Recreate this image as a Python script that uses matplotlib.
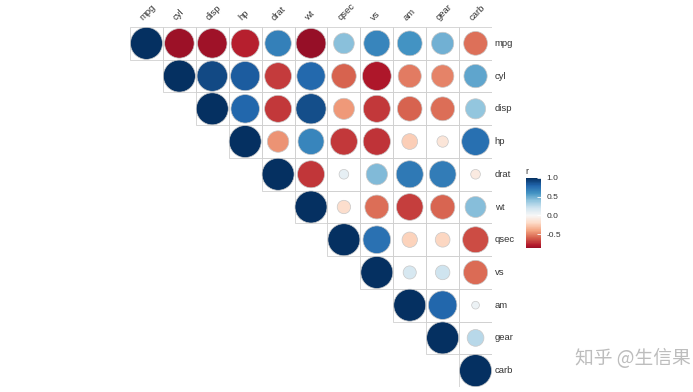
import numpy as np
import matplotlib
matplotlib.use('Agg')
import matplotlib.pyplot as plt
from matplotlib.patches import Rectangle
from matplotlib.colors import Normalize
import matplotlib.cm as cm

plt.rcParams['font.family'] = ['Liberation Sans', 'DejaVu Sans']

# mtcars correlation matrix (upper triangle incl. diagonal is drawn)
names = ['mpg', 'cyl', 'disp', 'hp', 'drat', 'wt', 'qsec', 'vs', 'am', 'gear', 'carb']
r_mpg  = [1.000, -0.852, -0.848, -0.776, 0.681, -0.868, 0.419, 0.664, 0.600, 0.480, -0.551]
r_cyl  = [1.000, 0.902, 0.832, -0.700, 0.782, -0.591, -0.811, -0.523, -0.493, 0.527]
r_disp = [1.000, 0.791, -0.710, 0.888, -0.434, -0.710, -0.591, -0.556, 0.395]
r_hp   = [1.000, -0.449, 0.659, -0.708, -0.723, -0.243, -0.126, 0.750]
r_drat = [1.000, -0.712, 0.091, 0.440, 0.713, 0.700, -0.091]
r_wt   = [1.000, -0.175, -0.555, -0.692, -0.583, 0.428]
r_qsec = [1.000, 0.745, -0.230, -0.213, -0.656]
r_vs   = [1.000, 0.168, 0.206, -0.570]
r_am   = [1.000, 0.794, 0.058]
r_gear = [1.000, 0.274]
r_carb = [1.000]
rows = [r_mpg, r_cyl, r_disp, r_hp, r_drat, r_wt, r_qsec, r_vs, r_am, r_gear, r_carb]

n = len(names)
xs, ys, vals = [], [], []
for i, row in enumerate(rows):
    for k, v in enumerate(row):
        xs.append(i + k)
        ys.append(i)
        vals.append(v)
xs = np.array(xs); ys = np.array(ys); vals = np.array(vals)

# colours centred on 0 over -1..1, legend only spans the data range
norm = Normalize(vmin=-1, vmax=1)
cmap = plt.get_cmap('RdBu')

fig = plt.figure(figsize=(6.93, 3.92), dpi=100)
ax = fig.add_axes([130/693, 1 - 387/392, 362/693, 360/392])

# grid of the upper triangle
for x, y in zip(xs, ys):
    ax.add_patch(Rectangle((x - 0.5, y - 0.5), 1, 1, fill=False,
                           edgecolor='#d0d0d0', lw=0.6, zorder=1))

ax.scatter(xs, ys, s=531 * np.abs(vals), c=vals, cmap=cmap, norm=norm,
           edgecolors='#c8c8c8', linewidths=0.5, zorder=2)

ax.set_xlim(-0.5, n - 0.5)
ax.set_ylim(n - 0.5, -0.5)
ax.axis('off')

for j, nm in enumerate(names):
    ax.text(j - 0.05, -0.65, nm, rotation=45, ha='left', va='bottom',
            rotation_mode='anchor', fontsize=6.8, color='#333333')
    ax.text(n - 0.5 + 0.08, j, nm, ha='left', va='center',
            fontsize=6.8, color='#333333')

# colour bar
cax = fig.add_axes([525.7/693, 1 - 248/392, 15/693, 70/392])
cb = fig.colorbar(cm.ScalarMappable(norm=norm, cmap=cmap), cax=cax,
                  boundaries=np.linspace(vals.min(), vals.max(), 257))
cb.set_ticks([-0.5, 0.0, 0.5, 1.0])
cb.set_ticklabels(['-0.5', '0.0', '0.5', '1.0'])
cb.outline.set_visible(False)
cax.tick_params(length=3, width=0.6, color='white', direction='in',
                labelsize=6, labelcolor='#333333', pad=4)
cax.set_title('r', fontsize=6.5, loc='left', color='#333333', pad=3)

fig.text(575/693, 1 - 358/392, '知乎 @生信果', fontsize=13.5, color='#bdbdbd',
         va='center', family=['Noto Sans CJK SC', 'DejaVu Sans'])

fig.savefig('out.png', dpi=100)
